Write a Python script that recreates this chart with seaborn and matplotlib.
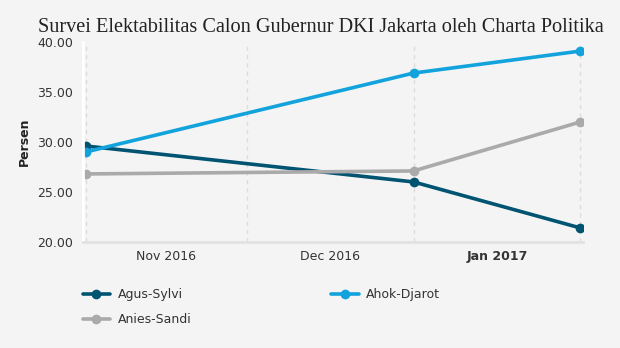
import matplotlib
matplotlib.use("Agg")
import matplotlib.pyplot as plt
from matplotlib.lines import Line2D
import seaborn as sns
import pandas as pd

dates = ["2016-11-01", "2017-01-01", "2017-02-01"]
agus = [29.6, 26.0, 21.4]
ahok = [29.0, 36.9, 39.1]
anies = [26.8, 27.1, 32.0]
series_names = ["Agus-Sylvi", "Ahok-Djarot", "Anies-Sandi"]
colors = ["#005472", "#12a3dd", "#aaaaaa"]
month_labels = ["Nov 2016", "Dec 2016", "Jan 2017"]
yticks = [20, 25, 30, 35, 40]

rows = []
for name, vals in zip(series_names, [agus, ahok, anies]):
    for d, v in zip(dates, vals):
        rows.append({"date": pd.Timestamp(d), "value": v, "series": name})
df = pd.DataFrame(rows)

sns.set_style("white")
bg = "#f4f4f4"
fig = plt.figure(figsize=(6.2, 3.48), dpi=100, facecolor=bg)
ax = fig.add_axes([0.134, 0.305, 0.806, 0.574], facecolor=bg)

sns.lineplot(data=df, x="date", y="value", hue="series", palette=colors,
             hue_order=series_names, marker="o", markersize=7, markeredgewidth=0,
             linewidth=2.6, ax=ax, legend=False)

ax.set_ylim(20, 40)
ax.set_yticks(yticks)
ax.set_yticklabels([f"{v:.2f}" for v in yticks], fontsize=9, color="#333333")
ax.set_xlim(pd.Timestamp("2016-10-31 12:00"), pd.Timestamp("2017-02-01 12:00"))

bounds = [pd.Timestamp(d) for d in ["2016-11-01", "2016-12-01", "2017-01-01", "2017-02-01"]]
ax.set_xticks(bounds)
ax.set_xticklabels([""] * len(bounds))
mids = [bounds[i] + (bounds[i + 1] - bounds[i]) / 2 for i in range(3)]
ax.set_xticks(mids, minor=True)
ax.set_xticklabels(month_labels, minor=True, fontsize=9, color="#333333")
ax.get_xticklabels(minor=True)[2].set_fontweight("bold")
ax.tick_params(axis="x", which="both", length=0, pad=6)
ax.tick_params(axis="y", length=4, color="white", width=1.5, pad=3)

for b in bounds:
    ax.axvline(b, color="#dcdcdc", linestyle=(0, (3, 3)), linewidth=1, zorder=0)

for s in ["top", "right"]:
    ax.spines[s].set_visible(False)
ax.spines["left"].set_color("white")
ax.spines["left"].set_linewidth(2)
ax.spines["bottom"].set_color("#e2e2e2")
ax.spines["bottom"].set_linewidth(2)

ax.set_xlabel("")
ax.set_ylabel("Persen", fontsize=9, fontweight="bold", color="#222222", labelpad=5)

fig.text(0.061, 1 - 32 / 348, "Survei Elektabilitas Calon Gubernur DKI Jakarta oleh Charta Politika",
         fontsize=14.6, family="Liberation Serif", color="#222222", ha="left", va="baseline")

handles = [Line2D([0], [0], color=c, linewidth=2.6, marker="o", markersize=7,
                  markeredgewidth=0) for c in colors]
order = [0, 2, 1]
fig.legend([handles[i] for i in order], [series_names[i] for i in order],
           loc="upper left", bbox_to_anchor=(0.115, 0.205),
           ncol=2, frameon=False, fontsize=9, columnspacing=11.2, handlelength=2.2,
           handletextpad=0.6, labelspacing=1.0, labelcolor="#333333")

fig.savefig("out.png", dpi=100, facecolor=bg)
